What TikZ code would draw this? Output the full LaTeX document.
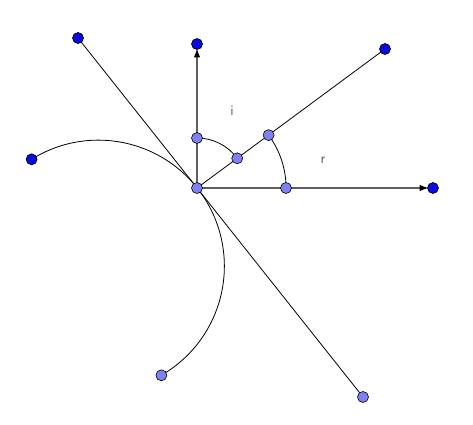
\documentclass[tikz,border=0pt]{standalone}
\usetikzlibrary{arrows.meta}
\definecolor{darkpt}{RGB}{10,10,225}
\definecolor{lightpt}{RGB}{128,128,245}
\tikzset{
	ptdark/.style={circle, draw=black, fill=darkpt, inner sep=0pt, minimum size=11pt, line width=0.6pt},
	ptlight/.style={circle, draw=black, fill=lightpt, inner sep=0pt, minimum size=11pt, line width=0.6pt},
	vec/.style={-{Latex[length=9pt,width=6.5pt,color=black]}, line width=1.1pt, draw={rgb,255:red,95;green,95;blue,95}, shorten >=4.5pt},
	lbl/.style={font=\sffamily\Large, text={rgb,255:red,90;green,90;blue,90}}
}
\begin{document}
\begin{tikzpicture}[x=1pt, y=1pt]
	\useasboundingbox (0,0) rectangle (473,424);
	\coordinate (O) at (197,236);
	\coordinate (N) at (197,380);
	\coordinate (E) at (433,236);
	\coordinate (UL) at (78,386);
	\coordinate (UR) at (385,375);
	\coordinate (W) at (31.6,264.7);
	\coordinate (BL) at (161.4,48.7);
	\coordinate (BR) at (363,27);
	\coordinate (Ni) at (197,286);
	\coordinate (Ri) at (237.2,265.7);
	\coordinate (Rr) at (268.6,288.9);
	\coordinate (Er) at (286,236);
	\draw[line width=0.8pt] (UL) -- (BR);
	\draw[line width=0.8pt] (O) -- (UR);
	\draw[line width=0.8pt] (W) arc[start angle=122, end angle=-60, radius=126];
	\draw[line width=0.8pt] (Ni) arc[start angle=90, end angle=36.5, radius=50];
	\draw[line width=0.8pt] (Rr) arc[start angle=36.5, end angle=0, radius=89];
	\draw[vec] (O) -- (N);
	\draw[vec] (O) -- (E);
	\node[ptdark] (n) at (N) {};
	\node[ptdark] (e) at (E) {};
	\node[ptdark] (ul) at (UL) {};
	\node[ptdark] (ur) at (UR) {};
	\node[ptdark] (w) at (W) {};
	\node[ptlight] (bl) at (BL) {};
	\node[ptlight] (br) at (BR) {};
	\node[ptlight] (ni) at (Ni) {};
	\node[ptlight] (ri) at (Ri) {};
	\node[ptlight] (rr) at (Rr) {};
	\node[ptlight] (er) at (Er) {};
	\node[ptlight] (o) at (O) {};
	\node[lbl] (li) at (232,313) {i};
	\node[lbl] (lr) at (323,264) {r};
\end{tikzpicture}
\end{document}
